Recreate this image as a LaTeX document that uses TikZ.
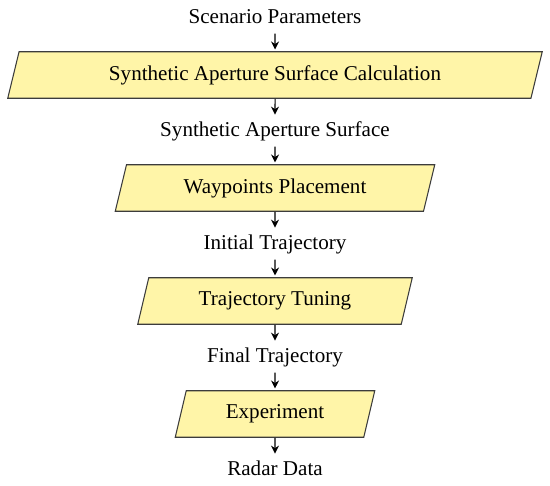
\documentclass[tikz,border=0pt]{standalone}
\usepackage{fontspec}
\setmainfont{Liberation Serif}
\usetikzlibrary{arrows.meta,shapes.geometric,positioning}
\definecolor{boxyellow}{RGB}{255,245,168}
\definecolor{boxline}{RGB}{60,60,60}
\tikzset{%
  >={Stealth[width=1.6mm,length=1.6mm]},shorten >=1pt,
  % Specifications for style of nodes:
        step box/.style = {trapezium, trapezium left angle=70,
                           trapezium right angle=110, trapezium stretches body,
                           draw=boxline, line width=0.6pt, fill=boxyellow,
                           minimum height=0.93cm, text centered},
   data/.style = {text height=8pt, text depth=2.2pt},
}

\begin{document}
\begin{tikzpicture}[node distance=1.13cm, font=\fontsize{12}{14}\selectfont]
  \useasboundingbox (0,0) rectangle (11,-9.7);
  % Specification of nodes (position, etc.)
  \node (scen)       [data] at (5.5,-0.37)  {Scenario Parameters};
  \node (sascalc)    [step box, minimum width=10.69cm, below of=scen]
                {Synthetic Aperture Surface Calculation};
  \node (sas)        [data, below of=sascalc]        {Synthetic Aperture Surface};
  \node (wpplace)    [step box, minimum width=6.39cm, below of=sas]
                {Waypoints Placement};
  \node (inittraj)   [data, below of=wpplace]        {Initial Trajectory};
  \node (trajtune)   [step box, minimum width=5.49cm, below of=inittraj]
                {Trajectory Tuning};
  \node (finaltraj)  [data, below of=trajtune]       {Final Trajectory};
  \node (experiment) [step box, minimum width=3.99cm, below of=finaltraj]
                {Experiment};
  \node (radar)      [data, below of=experiment]     {Radar Data};
  % Specification of arrows between nodes
\draw[->,line width=0.6pt]   (scen) -- (sascalc);
\draw[->,line width=0.6pt]   (sascalc) -- (sas);
\draw[->,line width=0.6pt]   (sas) -- (wpplace);
\draw[->,line width=0.6pt]   (wpplace) -- (inittraj);
\draw[->,line width=0.6pt]   (inittraj) -- (trajtune);
\draw[->,line width=0.6pt]   (trajtune) -- (finaltraj);
\draw[->,line width=0.6pt]   (finaltraj) -- (experiment);
\draw[->,line width=0.6pt]   (experiment) -- (radar);
\end{tikzpicture}
\end{document}
